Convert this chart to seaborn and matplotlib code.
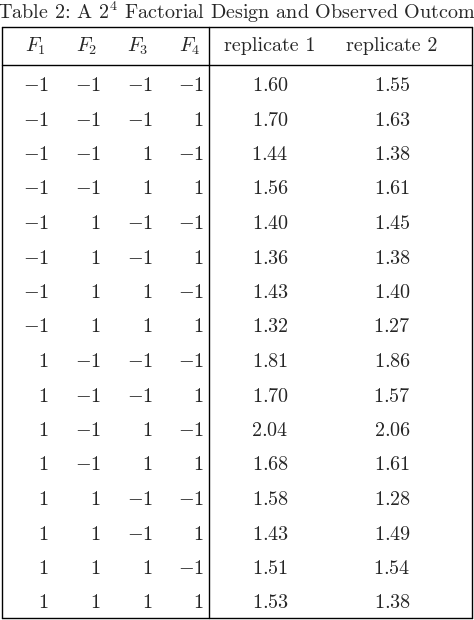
import matplotlib
matplotlib.use('Agg')
import matplotlib.pyplot as plt
import seaborn as sns

# table data
f1 = [-1]*8 + [1]*8
f2 = ([-1]*4 + [1]*4) * 2
f3 = [-1, -1, 1, 1] * 4
f4 = [-1, 1] * 8
rep1 = ['1.60', '1.70', '1.44', '1.56', '1.40', '1.36', '1.43', '1.32',
        '1.81', '1.70', '2.04', '1.68', '1.58', '1.43', '1.51', '1.53']
rep2 = ['1.55', '1.63', '1.38', '1.61', '1.45', '1.38', '1.40', '1.27',
        '1.86', '1.57', '2.06', '1.61', '1.28', '1.49', '1.54', '1.38']
headers = [r'$F_1$', r'$F_2$', r'$F_3$', r'$F_4$', 'replicate 1', 'replicate 2']
title = r'Table 2: A $2^4$ Factorial Design and Observed Outcomes'

sns.set_theme(style='white')
plt.rcParams['mathtext.fontset'] = 'cm'
plt.rcParams['font.family'] = ['cmr10', 'DejaVu Serif']
plt.rcParams['axes.formatter.use_mathtext'] = True

W, H = 474, 620
fig = plt.figure(figsize=(W/100, H/100), dpi=100)
ax = fig.add_axes([0, 0, 1, 1])
ax.set_xlim(0, W)
ax.set_ylim(H, 0)
ax.axis('off')

fs = 14.5
ax.text(W/2 + 8, 12, title, ha='center', va='center', fontsize=fs)

# borders
lw = 1.0
ax.plot([2, 472], [27, 27], color='black', lw=lw)
ax.plot([2, 472], [65, 65], color='black', lw=lw)
ax.plot([2, 472], [618, 618], color='black', lw=lw)
ax.plot([2, 2], [27, 618], color='black', lw=lw)
ax.plot([472, 472], [27, 618], color='black', lw=lw)
ax.plot([209, 209], [27, 618], color='black', lw=lw)

fx = [35, 87, 138, 190]
fr = [49, 101, 153, 204]
ax_r1, ax_r2 = 270, 392
for x, h in zip(fx, headers[:4]):
    ax.text(x, 46, h, ha='center', va='center', fontsize=fs)
ax.text(ax_r1, 46, headers[4], ha='center', va='center', fontsize=fs)
ax.text(ax_r2, 46, headers[5], ha='center', va='center', fontsize=fs)

y0, dy = 86, 34.5
for i in range(16):
    y = y0 + i*dy
    for x, col in zip(fr, [f1, f2, f3, f4]):
        ax.text(x, y, r'$%d$' % col[i], ha='right', va='center', fontsize=fs)
    ax.text(ax_r1, y, r'$%s$' % rep1[i], ha='center', va='center', fontsize=fs)
    ax.text(ax_r2, y, r'$%s$' % rep2[i], ha='center', va='center', fontsize=fs)

fig.savefig('out.png', dpi=100)
